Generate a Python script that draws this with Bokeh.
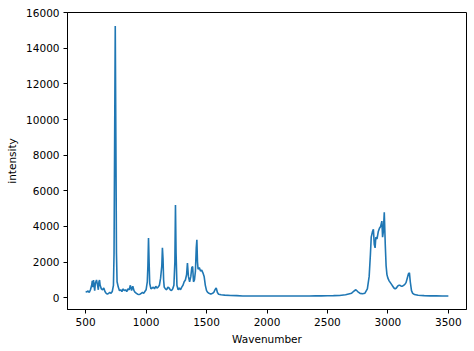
from bokeh.plotting import figure
from bokeh.models import Range1d, FixedTicker
from bokeh.embed import file_html
from bokeh.resources import INLINE

wavenumber = [
    500, 510, 520, 530, 540, 550, 555, 560, 565, 570, 575, 580, 590, 600, 605, 610, 615, 620,
    630, 640, 650, 660, 670, 680, 690, 700, 710, 720, 730, 735, 740, 745, 750, 755, 760,
    770, 780, 790, 800, 810, 820, 830, 840, 850, 860, 870, 875, 880, 890, 900, 910, 920,
    930, 940, 950, 960, 970, 980, 990, 1000, 1010, 1015, 1020, 1025, 1030, 1040, 1050,
    1060, 1070, 1080, 1090, 1100, 1110, 1120, 1130, 1135, 1140, 1145, 1150, 1160, 1170,
    1180, 1190, 1200, 1210, 1220, 1230, 1238, 1243, 1248, 1255, 1265, 1275, 1285, 1295,
    1305, 1315, 1325, 1335, 1342, 1350, 1360, 1370, 1378, 1385, 1392, 1400, 1408, 1415,
    1420, 1425, 1430, 1440, 1450, 1460, 1470, 1480, 1490, 1500, 1510, 1520, 1530, 1540,
    1550, 1560, 1570, 1580, 1590, 1600, 1620, 1650, 1700, 1750, 1800, 1850, 1900, 1950,
    2000, 2050, 2100, 2150, 2200, 2250, 2300, 2350, 2400, 2450, 2500, 2550, 2600, 2650,
    2700, 2720, 2735, 2750, 2770, 2790, 2810, 2830, 2845, 2855, 2862, 2872, 2880, 2887,
    2894, 2900, 2910, 2920, 2930, 2940, 2950, 2956, 2962, 2970, 2978, 2985, 2992, 3000,
    3010, 3020, 3030, 3040, 3050, 3060, 3070, 3080, 3090, 3100, 3110, 3120, 3130, 3140,
    3150, 3160, 3170, 3178, 3185, 3195, 3205, 3220, 3250, 3300, 3350, 3400, 3450, 3500,
]
intensity = [
    350, 330, 380, 300, 450, 700, 950, 600, 1000, 700, 400, 800, 1000, 650, 450, 900, 1000, 700,
    500, 450, 550, 350, 250, 200, 250, 300, 250, 350, 700, 2500, 9000, 15250, 9000, 2500, 900,
    600, 400, 450, 350, 500, 400, 450, 350, 500, 450, 700, 550, 400, 650, 400, 300, 250,
    200, 180, 200, 250, 300, 250, 350, 450, 900, 1800, 3350, 2000, 800, 500, 550,
    600, 500, 650, 550, 600, 700, 1100, 1800, 2800, 2200, 1000, 600, 500, 450,
    600, 550, 450, 400, 500, 700, 2000, 5200, 2500, 700, 450, 550, 450, 600,
    700, 900, 1000, 1300, 1950, 1200, 900, 1200, 1700, 1750, 900, 1000, 1500, 2800,
    3250, 2000, 1600, 1700, 1500, 1550, 1400, 1200, 700, 400, 300, 250, 220, 220,
    250, 300, 450, 550, 300, 200, 170, 150, 130, 120, 100, 100, 100, 100,
    100, 100, 100, 100, 100, 100, 100, 100, 105, 110, 115, 120, 130, 170,
    260, 380, 450, 350, 250, 230, 260, 500, 1200, 2400, 3400, 3700, 3850, 3000,
    2800, 3400, 3300, 3700, 3900, 4000, 4300, 3400, 3700, 4800, 3000, 1800, 1300, 1100,
    950, 850, 750, 650, 550, 500, 550, 650, 700, 700, 650, 650, 700, 750,
    850, 1100, 1350, 1400, 900, 400, 250, 180, 140, 120, 110, 110, 100, 100,
]
x_ticks = [500, 1000, 1500, 2000, 2500, 3000, 3500]
y_ticks = [0, 2000, 4000, 6000, 8000, 10000, 12000, 14000, 16000]

p = figure(width=474, height=351, output_backend="svg", toolbar_location=None,
           x_range=Range1d(350, 3650), y_range=Range1d(-657, 16007),
           min_border_left=67, min_border_right=8, min_border_top=12, min_border_bottom=42)
p.line(wavenumber, intensity, line_color="#1f77b4", line_width=1.6)

p.xgrid.visible = False
p.ygrid.visible = False
p.outline_line_color = "black"
p.outline_line_width = 1
p.outline_line_alpha = 1
p.background_fill_color = "white"
p.border_fill_color = "white"

for ax in (p.xaxis[0], p.yaxis[0]):
    ax.major_tick_out = 4
    ax.major_tick_in = 0
    ax.minor_tick_out = 0
    ax.minor_tick_in = 0
    ax.axis_line_color = "black"
    ax.major_tick_line_color = "black"
    ax.major_label_text_color = "black"
    ax.major_label_text_font = "DejaVu Sans"
    ax.major_label_text_font_size = "10.5px"
    ax.axis_label_text_color = "black"
    ax.axis_label_text_font = "DejaVu Sans"
    ax.axis_label_text_font_size = "10.5px"
    ax.axis_label_text_font_style = "normal"

p.xaxis.ticker = FixedTicker(ticks=x_ticks)
p.yaxis.ticker = FixedTicker(ticks=y_ticks)
p.xaxis.axis_label = "Wavenumber"
p.yaxis.axis_label = "intensity"
p.xaxis.major_label_standoff = 4
p.xaxis.axis_label_standoff = 4
p.yaxis.major_label_standoff = 4
p.yaxis.axis_label_standoff = 5

open("out.html", "w").write(file_html(p, INLINE))
